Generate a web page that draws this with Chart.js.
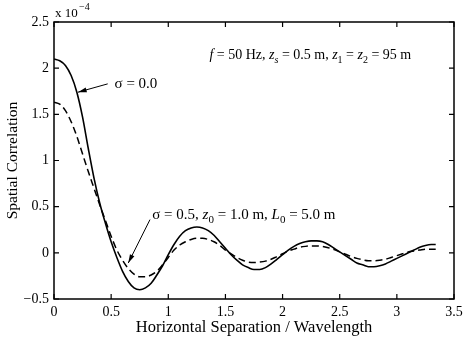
<!DOCTYPE html>
<html>
<head>
<meta charset="utf-8">
<script src="https://cdn.jsdelivr.net/npm/chart.js@4/dist/chart.umd.min.js"></script>
<style>
  html, body { margin: 0; padding: 0; background: #fff; }
  #wrap { width: 474px; height: 351px; }
</style>
</head>
<body>
<div id="wrap"><canvas id="corr"></canvas></div>
<script>
// horizontal separation / wavelength
const separation = [0, 0.05, 0.1, 0.15, 0.2, 0.25, 0.3, 0.35, 0.4, 0.45, 0.5, 0.55, 0.6, 0.65, 0.7, 0.75,
  0.8, 0.85, 0.9, 0.95, 1.0, 1.05, 1.1, 1.15, 1.2, 1.25, 1.3, 1.35, 1.4, 1.45, 1.5, 1.55, 1.6, 1.65,
  1.7, 1.75, 1.8, 1.85, 1.9, 1.95, 2.0, 2.05, 2.1, 2.15, 2.2, 2.25, 2.3, 2.35, 2.4, 2.45, 2.5, 2.55,
  2.6, 2.65, 2.7, 2.75, 2.8, 2.85, 2.9, 2.95, 3.0, 3.05, 3.1, 3.15, 3.2, 3.25, 3.3, 3.34];

// spatial correlation (x 1e-4), sigma = 0.0
const sigma0 = [2.10, 2.08, 2.03, 1.92, 1.74, 1.47, 1.13, 0.81, 0.54, 0.32, 0.12, -0.05, -0.20, -0.31, -0.38, -0.40,
  -0.38, -0.33, -0.24, -0.14, -0.02, 0.09, 0.18, 0.24, 0.27, 0.28, 0.27, 0.24, 0.19, 0.12, 0.05, -0.02, -0.08, -0.13,
  -0.16, -0.18, -0.18, -0.16, -0.12, -0.07, -0.02, 0.03, 0.07, 0.10, 0.12, 0.13, 0.13, 0.12, 0.09, 0.05, 0.01, -0.03,
  -0.07, -0.11, -0.13, -0.15, -0.15, -0.14, -0.12, -0.09, -0.06, -0.03, 0.00, 0.03, 0.06, 0.08, 0.09, 0.09];

// sigma = 0.5, z0 = 1.0 m, L0 = 5.0 m
const sigma05 = [1.63, 1.61, 1.54, 1.42, 1.26, 1.07, 0.88, 0.70, 0.52, 0.35, 0.18, 0.03, -0.08, -0.17, -0.23, -0.26,
  -0.26, -0.24, -0.20, -0.13, -0.05, 0.03, 0.085, 0.12, 0.145, 0.157, 0.157, 0.145, 0.12, 0.08, 0.03, -0.01, -0.05, -0.08,
  -0.10, -0.105, -0.10, -0.09, -0.07, -0.04, -0.01, 0.02, 0.04, 0.06, 0.07, 0.075, 0.075, 0.07, 0.055, 0.035, 0.01, -0.015,
  -0.04, -0.06, -0.075, -0.085, -0.085, -0.08, -0.07, -0.05, -0.03, -0.01, 0.01, 0.02, 0.03, 0.04, 0.04, 0.04];

const xTicks = [0, 0.5, 1, 1.5, 2, 2.5, 3, 3.5];
const yTicks = [-0.5, 0, 0.5, 1, 1.5, 2, 2.5];

const serif = "'Liberation Serif', 'Times New Roman', serif";

// draw a line of text made of runs (italic / subscript pieces)
function drawRuns(ctx, x, y, runs, size) {
  let cx = x;
  runs.forEach(r => {
    const s = r.sub ? Math.round(size * 0.72) : size;
    ctx.font = (r.it ? 'italic ' : '') + s + 'px ' + serif;
    ctx.fillText(r.t, cx, r.sub ? y + size * 0.3 : y);
    cx += ctx.measureText(r.t).width;
  });
}

function arrow(ctx, x1, y1, x2, y2) {
  const a = Math.atan2(y2 - y1, x2 - x1);
  ctx.beginPath();
  ctx.moveTo(x1, y1);
  ctx.lineTo(x2, y2);
  ctx.stroke();
  ctx.beginPath();
  ctx.moveTo(x2, y2);
  ctx.lineTo(x2 - 9 * Math.cos(a - 0.28), y2 - 9 * Math.sin(a - 0.28));
  ctx.lineTo(x2 - 9 * Math.cos(a + 0.28), y2 - 9 * Math.sin(a + 0.28));
  ctx.closePath();
  ctx.fill();
}

const frame = {
  id: 'frame',
  afterDraw(chart) {
    const ctx = chart.ctx;
    const a = chart.chartArea;
    const xs = chart.scales.x, ys = chart.scales.y;
    ctx.save();
    ctx.strokeStyle = '#000';
    ctx.fillStyle = '#000';
    ctx.lineWidth = 1.5;
    ctx.strokeRect(a.left, a.top, a.right - a.left, a.bottom - a.top);
    ctx.lineWidth = 1.2;
    ctx.beginPath();
    xTicks.forEach(v => {
      const px = xs.getPixelForValue(v);
      ctx.moveTo(px, a.bottom); ctx.lineTo(px, a.bottom - 5);
      ctx.moveTo(px, a.top); ctx.lineTo(px, a.top + 5);
    });
    yTicks.forEach(v => {
      const py = ys.getPixelForValue(v);
      ctx.moveTo(a.left, py); ctx.lineTo(a.left + 5, py);
      ctx.moveTo(a.right, py); ctx.lineTo(a.right - 5, py);
    });
    ctx.stroke();

    // exponent
    ctx.textBaseline = 'alphabetic';
    drawRuns(ctx, a.left + 1, a.top - 5, [{t: 'x 10'}], 13);
    ctx.font = '10px ' + serif;
    ctx.fillText('\u22124', a.left + 25, a.top - 12);

    // parameter line
    drawRuns(ctx, xs.getPixelForValue(1.36), ys.getPixelForValue(2.1), [
      {t: 'f', it: true}, {t: ' = 50 Hz, '}, {t: 'z', it: true}, {t: 's', it: true, sub: true},
      {t: ' = 0.5 m, '}, {t: 'z', it: true}, {t: '1', sub: true}, {t: ' = '},
      {t: 'z', it: true}, {t: '2', sub: true}, {t: ' = 95 m'}
    ], 14);

    // sigma = 0.0 label
    drawRuns(ctx, xs.getPixelForValue(0.53), ys.getPixelForValue(1.79), [{t: '\u03c3 = 0.0'}], 15);
    ctx.lineWidth = 1;
    arrow(ctx, xs.getPixelForValue(0.47), ys.getPixelForValue(1.83),
      xs.getPixelForValue(0.21), ys.getPixelForValue(1.74));

    // sigma = 0.5 label
    drawRuns(ctx, xs.getPixelForValue(0.86), ys.getPixelForValue(0.37), [
      {t: '\u03c3 = 0.5, '}, {t: 'z', it: true}, {t: '0', sub: true}, {t: ' = 1.0 m, '},
      {t: 'L', it: true}, {t: '0', sub: true}, {t: ' = 5.0 m'}
    ], 15);
    arrow(ctx, xs.getPixelForValue(0.84), ys.getPixelForValue(0.36),
      xs.getPixelForValue(0.65), ys.getPixelForValue(-0.11));
    ctx.restore();
  }
};

new Chart(document.getElementById('corr'), {
  type: 'line',
  data: {
    datasets: [
      {
        label: '\u03c3 = 0.0',
        data: separation.map((x, i) => ({x: x, y: sigma0[i]})),
        borderColor: '#000',
        borderWidth: 1.6,
        pointRadius: 0,
        cubicInterpolationMode: 'monotone',
        fill: false
      },
      {
        label: '\u03c3 = 0.5',
        data: separation.map((x, i) => ({x: x, y: sigma05[i]})),
        borderColor: '#000',
        borderWidth: 1.5,
        borderDash: [7, 4],
        pointRadius: 0,
        cubicInterpolationMode: 'monotone',
        fill: false
      }
    ]
  },
  options: {
    responsive: true,
    maintainAspectRatio: false,
    animation: false,
    layout: { padding: { left: 0, right: 20, top: 22, bottom: 0 } },
    plugins: { legend: { display: false }, tooltip: { enabled: false } },
    scales: {
      x: {
        type: 'linear',
        min: 0, max: 3.5,
        grid: { display: false, drawTicks: false },
        border: { display: false },
        afterBuildTicks: s => { s.ticks = xTicks.map(v => ({value: v})); },
        afterFit: s => { s.height = 52; },
        ticks: {
          color: '#000', padding: 5,
          font: { family: serif, size: 14 },
          maxRotation: 0,
          callback: v => String(v)
        },
        title: {
          display: true,
          text: 'Horizontal Separation / Wavelength',
          color: '#000',
          font: { family: serif, size: 16.5 },
          padding: { top: 0, bottom: 13 }
        }
      },
      y: {
        min: -0.5, max: 2.5,
        grid: { display: false, drawTicks: false },
        border: { display: false },
        afterBuildTicks: s => { s.ticks = yTicks.map(v => ({value: v})); },
        afterFit: s => { s.width = 54; },
        ticks: {
          color: '#000', padding: 5,
          font: { family: serif, size: 14 },
          callback: v => String(v).replace('-', '\u2212')
        },
        title: {
          display: true,
          text: 'Spatial Correlation',
          color: '#000',
          font: { family: serif, size: 15.5 },
          padding: { top: 4, bottom: 0 }
        }
      }
    }
  },
  plugins: [frame]
});
</script>
</body>
</html>
